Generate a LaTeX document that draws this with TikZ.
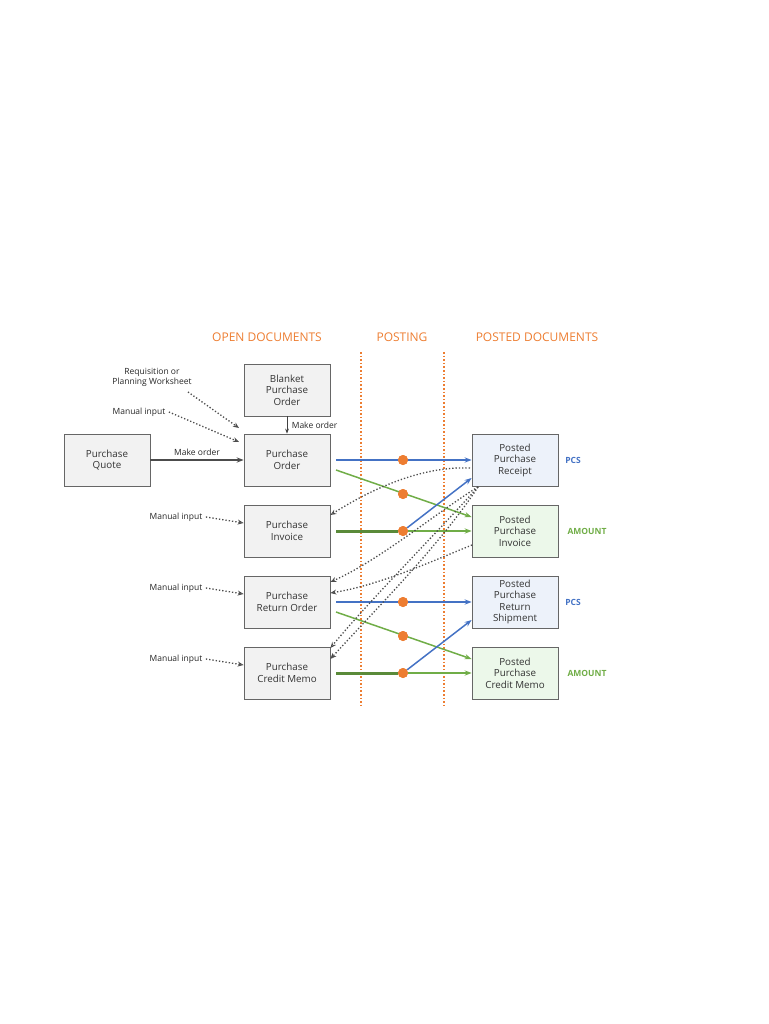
\documentclass[tikz,border=0pt]{standalone}
\usepackage{fontspec}
\setmainfont{Open Sans}
\usetikzlibrary{arrows.meta}
\definecolor{bx}{RGB}{242,242,242}
\definecolor{pb}{RGB}{237,242,250}
\definecolor{pg}{RGB}{236,248,234}
\definecolor{org}{RGB}{237,125,49}
\definecolor{blu}{RGB}{68,114,196}
\definecolor{grn}{RGB}{112,173,71}
\begin{document}
\begin{tikzpicture}[x=1pt,y=-1pt,
 box/.style={draw=gray!80!black,line width=0.8pt,fill=bx,minimum width=86pt,minimum height=52pt,align=center,font=\fontsize{9.8}{11.5}\selectfont,text=black!80,inner sep=1pt},
 pbox/.style={box,fill=pb},
 gbox/.style={box,fill=pg},
 lab/.style={font=\fontsize{8.5}{10}\selectfont,align=center,text=black!85},
 hdr/.style={font=\fontsize{12}{14}\selectfont,text=org},
 dotarr/.style={dotted,line width=1.3pt,black!70,-{Stealth[open,length=6pt,width=5pt,line width=0.8pt]}},
 bl/.style={blu,line width=1.5pt,-{Stealth[length=7pt]}},
 gr/.style={grn,line width=1.5pt,-{Stealth[length=7pt]}},
 pt/.style={circle,fill=org,inner sep=0pt,minimum size=10pt},
 ]
\useasboundingbox (0,0) rectangle (768,1024);
\node[hdr] (h1) at (267,337) {OPEN DOCUMENTS};
\node[hdr] (h2) at (402,337) {POSTING};
\node[hdr] (h3) at (537,337) {POSTED DOCUMENTS};
\coordinate (l1t) at (361,352); \coordinate (l1b) at (361,708);
\coordinate (l2t) at (444,352); \coordinate (l2b) at (444,708);
\draw[org,dotted,line width=1.6pt] (l1t)--(l1b);
\draw[org,dotted,line width=1.6pt] (l2t)--(l2b);
\node[box] (bpo) at (287,390) {Blanket\\Purchase\\Order};
\node[box] (po) at (287,460) {Purchase\\Order};
\node[box] (pi) at (287,531) {Purchase\\Invoice};
\node[box] (pro) at (287,602) {Purchase\\Return Order};
\node[box] (pcm) at (287,673) {Purchase\\Credit Memo};
\node[box] (pq) at (107,460) {Purchase\\Quote};
\node[pbox] (ppr) at (515,460) {Posted\\Purchase\\Receipt};
\node[gbox] (ppi) at (515,531) {Posted\\Purchase\\Invoice};
\node[pbox] (pprs) at (515,602) {Posted\\Purchase\\Return\\Shipment};
\node[gbox] (ppcm) at (515,673) {Posted\\Purchase\\Credit Memo};
\node[font=\fontsize{8.5}{10}\selectfont\bfseries,text=blu] (t1) at (573,460) {PCS};
\node[font=\fontsize{8.5}{10}\selectfont\bfseries,text=grn] (t2) at (587,531) {AMOUNT};
\node[font=\fontsize{8.5}{10}\selectfont\bfseries,text=blu] (t3) at (573,602) {PCS};
\node[font=\fontsize{8.5}{10}\selectfont\bfseries,text=grn] (t4) at (587,673) {AMOUNT};
% left inputs
\node[lab] (req) at (152,377) {Requisition or\\Planning Worksheet};
\node[lab] (mi0) at (139,412) {Manual input};
\node[lab] (mi1) at (176,517) {Manual input};
\node[lab] (mi2) at (176,588) {Manual input};
\node[lab] (mi3) at (176,659) {Manual input};
\draw[dotarr] (188,392) -- (239,428);
\draw[dotarr] (mi0.east) -- (239,442);
\draw[dotarr] (mi1.east) -- (pi.west|-0,523);
\draw[dotarr] (mi2.east) -- (pro.west|-0,594);
\draw[dotarr] (mi3.east) -- (pcm.west|-0,665);
\draw[line width=1.4pt,black!70,-{Stealth[length=7pt]}] (pq.east) -- node[lab,above]{Make order} (po.west);
\draw[line width=1pt,black!75,-{Stealth[length=5pt]}] (bpo.south) -- node[lab,right,xshift=1pt]{Make order} (po.north);
% posting flows
\coordinate (a1) at (336,460); \coordinate (b1) at (336,470);
\node[pt] (d1) at (403,460) {}; \node[pt] (d2) at (403,494) {};
\draw[bl] (a1) -- (ppr.west);
\draw[gr] (b1) -- (ppi.west|-0,517);
\node[pt] (d3) at (403,531) {};
\coordinate (c1) at (336,531);
\draw[grn!80!black,line width=3pt] (c1) -- (d3);
\draw[gr] (d3) -- (ppi.west);
\draw[bl] (d3) -- (ppr.west|-0,478);
\coordinate (a2) at (336,602); \coordinate (b2) at (336,612);
\draw[bl] (a2) -- (pprs.west);
\draw[gr] (b2) -- (ppcm.west|-0,659);
\coordinate (c2) at (336,673);
\node[pt] (d4) at (403,602) {}; \node[pt] (d5) at (403,636) {}; \node[pt] (d6) at (403,673) {};
\draw[grn!80!black,line width=3pt] (c2) -- (d6);
\draw[gr] (d6) -- (ppcm.west);
\draw[bl] (d6) -- (pprs.west|-0,620);
% return flows
\coordinate (r1) at (470,468); \coordinate (r2) at (478,487); \coordinate (r3) at (472,545);
\draw[dotarr] (r1) .. controls (420,466) and (370,490) .. (pi.east|-0,515);
\draw[dotarr] (r2) .. controls (440,510) and (380,560) .. (pro.east|-0,582);
\draw[dotarr] (r3) .. controls (430,562) and (380,585) .. (pro.east|-0,593);
\draw[dotarr] (r2) .. controls (430,540) and (370,600) .. (pcm.east|-0,648);
\draw[dotarr] (r2) .. controls (440,545) and (375,610) .. (pcm.east|-0,659);
\node[pt] at (d1) {}; \node[pt] at (d2) {}; \node[pt] at (d3) {};
\node[pt] at (d4) {}; \node[pt] at (d5) {}; \node[pt] at (d6) {};
\end{tikzpicture}
\end{document}
